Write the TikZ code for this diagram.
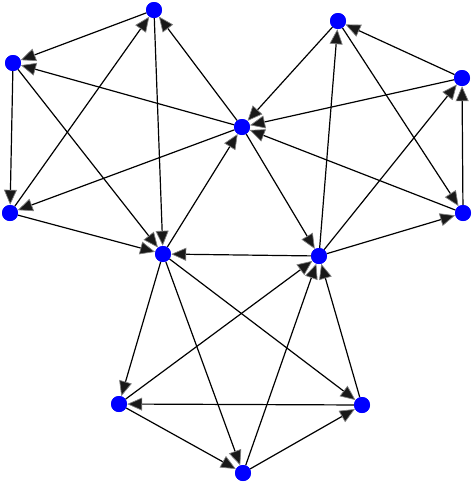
\documentclass[tikz,border=0pt]{standalone}
\usetikzlibrary{arrows.meta}
\begin{document}
\begin{tikzpicture}[x=1pt,y=-1pt,
  vtx/.style={circle,fill=blue,draw=none,minimum size=16pt,inner sep=0pt},
  edge/.style={draw=black,line width=1.2pt,-{Triangle[length=15pt,width=13pt,color=black!50,fill=black!90,line width=0.7pt]}}]
\useasboundingbox (0,0) rectangle (474,483);
\node[vtx] (A) at (154,10) {};
\node[vtx] (B) at (13,63) {};
\node[vtx] (C) at (242,127) {};
\node[vtx] (D) at (338,21) {};
\node[vtx] (E) at (462,78) {};
\node[vtx] (F) at (10,213) {};
\node[vtx] (G) at (163,254) {};
\node[vtx] (H) at (463,213) {};
\node[vtx] (I) at (319,256) {};
\node[vtx] (J) at (119,404) {};
\node[vtx] (K) at (362,405) {};
\node[vtx] (L) at (243,473) {};
\foreach \s/\t in {A/B,A/G,B/F,B/G,C/A,C/B,C/F,C/I,D/C,D/H,E/C,E/D,F/A,F/G,
  G/C,G/J,G/K,G/L,H/C,H/E,I/D,I/E,I/G,I/H,J/I,J/L,K/I,K/J,L/I,L/K}
  \draw[edge] (\s) -- (\t);
\foreach \n in {A,B,C,D,E,F,G,H,I,J,K,L}
  \node[vtx] at (\n) {};
\end{tikzpicture}
\end{document}
